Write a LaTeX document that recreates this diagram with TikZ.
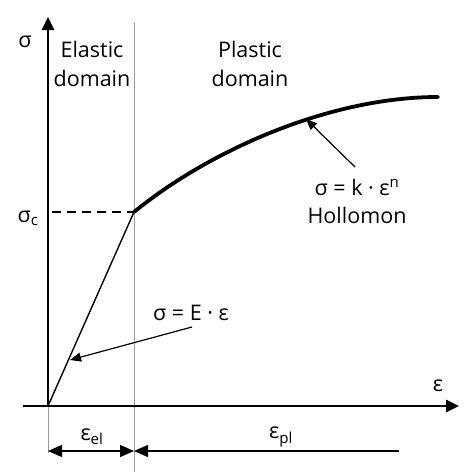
\documentclass[tikz,border=0pt]{standalone}
\usepackage{fontspec}
\setmainfont{Open Sans}
\usetikzlibrary{arrows.meta}
\begin{document}
\begin{tikzpicture}[x=1pt,y=-1pt,
  lbl/.style={inner sep=0pt, font=\fontsize{21.5}{29}\selectfont},
  axis/.style={line width=1.4pt, -{Triangle[length=13pt,width=12.5pt]}},
  guide/.style={gray!80, line width=0.9pt},
  tip/.style={-{Triangle[length=11pt,width=9pt]}, line width=1.2pt},
  dim/.style={line width=1.2pt}]
\useasboundingbox (0,0) rectangle (474,474);
% coordinates
\coordinate (O) at (48,406);
\coordinate (ytop) at (48,17);
\coordinate (ybot) at (48,453);
\coordinate (xleft) at (23,406);
\coordinate (xright) at (459,406);
\coordinate (dtop) at (134,23);
\coordinate (dbot) at (134,472);
\coordinate (Y) at (134,212);
\coordinate (sy) at (52,212);
\coordinate (E) at (438,97);
% guides
\draw[guide] (O) -- (ybot);
\draw[guide] (dtop) -- (dbot);
% axes
\draw[axis] (O) -- (ytop);
\draw[axis] (xleft) -- (xright);
% dashed
\draw[line width=1.1pt, dash pattern=on 9pt off 6pt] (sy) -- (Y);
% elastic line
\draw[line width=1.4pt] (O) -- (Y);
% plastic curve
\draw[line width=3.8pt, line cap=round] (Y) .. controls (210,150) and (330,97) .. (E);
% labels
\node[lbl] (sig) at (25,42) {σ};
\node[lbl] (sigc) at (28,218) {σ\textsubscript{c}};
\node[lbl, align=center] (el) at (92,64) {Elastic\\domain};
\node[lbl, align=center] (pl) at (250,64) {Plastic\\domain};
\node[lbl] (hook) at (357,187) {σ = k · ε\textsuperscript{n}};
\node[lbl] (holl) at (357,215) {Hollomon};
\node[lbl] (hooke) at (191,313) {σ = E · ε};
\node[lbl] (eps) at (438,386) {ε};
\node[lbl] (epsel) at (92,437) {ε\textsubscript{el}};
\node[lbl] (epspl) at (281,437) {ε\textsubscript{pl}};
% pointer arrows
\coordinate (a1t) at (355,167);
\coordinate (a1h) at (306,119);
\draw[tip] (a1t) -- (a1h);
\coordinate (a2t) at (192,327);
\coordinate (a2h) at (70,360);
\draw[tip] (a2t) -- (a2h);
% dimension arrows
\coordinate (d0) at (48,451);
\coordinate (d1) at (134,451);
\coordinate (d2) at (399,451);
\draw[dim, {Triangle[length=14pt,width=12pt]}-{Triangle[length=14pt,width=12pt]}] (d0) -- (d1);
\draw[dim, {Triangle[length=14pt,width=12pt]}-] (d1) -- (d2);
\end{tikzpicture}
\end{document}
